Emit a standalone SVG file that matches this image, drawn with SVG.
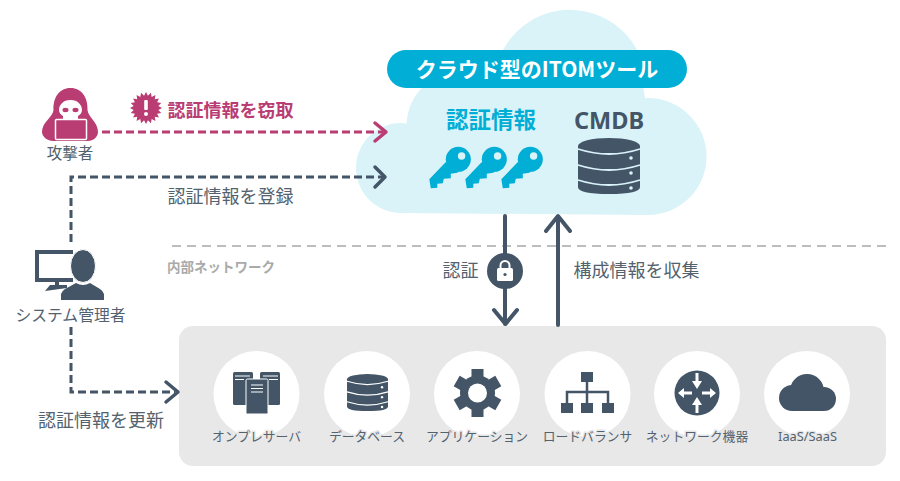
<svg xmlns="http://www.w3.org/2000/svg" xmlns:xlink="http://www.w3.org/1999/xlink" width="900" height="481" viewBox="0 0 900 481">
<style>
text{font-family:"Noto Sans CJK JP","Noto Sans",sans-serif;fill:#52626f;text-anchor:middle}
.lbl{font-size:18px}
.small{font-size:12.800px;stroke:#e8e8e8;stroke-width:3px;paint-order:stroke;stroke-linejoin:round}
.dk{fill:#435566}
.c{fill:#fff}
.conn{fill:none;stroke:#435566;stroke-width:3}
.dash{stroke-dasharray:8 4}
.pink{stroke:#b93c72}
.solid{stroke-width:4;stroke-linecap:round;stroke-linejoin:round}
.head{stroke-linecap:round;stroke-linejoin:round;stroke-width:3.500}
</style>
<defs>
<symbol id="db" viewBox="0 0 62 56" overflow="visible">
<path fill="#435566" d="M0 8A31 8 0 0 1 62 8V49Q62 56 31 56Q0 56 0 49Z"/>
<path fill="none" stroke="currentColor" stroke-width="1.800" d="M0 11Q31 21 62 11M0 27Q31 37 62 27M0 42Q31 52 62 42"/>
<circle cx="53" cy="20" r="1.800" fill="currentColor"/><circle cx="53" cy="35" r="1.800" fill="currentColor"/><circle cx="53" cy="50" r="1.800" fill="currentColor"/>
</symbol>
<g id="key">
<path fill="#00aed6" d="M-12.700 3L-29 20L-27.500 29L-21 28.500L-21 24.500L-15.500 24L-14.500 19.500L-7.500 19L-7.500 14.500L-1 13.500L5 9Z"/>
<circle r="12.500" fill="#00aed6"/>
<circle cx="3.300" cy="-3.300" r="3.700" fill="#d9f3f9"/>
</g>
</defs>

<g id="cloud">
<path fill="#d9f3f9" d="M401 213A45 45 0 0 1 401 123Q404 123 406.500 123.500Q408 100 425 85H494A76 76 0 0 1 637 50L645 98L648 98A58.500 58.500 0 0 1 648 215Z"/>
<rect x="387" y="50" width="300" height="38" rx="19" fill="#00aed6"/>
<text x="537" y="77" font-size="21" font-weight="700" style="fill:#fff">クラウド型のITOMツール</text>
</g>

<g id="credentials">
<text x="491" y="128" font-size="22.500" font-weight="700" style="fill:#00aed6">認証情報</text>
<use xlink:href="#key" href="#key" x="458.300" y="159.300"/>
<use xlink:href="#key" href="#key" x="494.300" y="159.300"/>
<use xlink:href="#key" href="#key" x="530.300" y="159.300"/>
</g>

<g id="cmdb">
<text x="609" y="129" font-size="23.500" font-weight="700" style="fill:#435566;font-family:'Noto Sans',sans-serif">CMDB</text>
<use href="#db" xlink:href="#db" x="578" y="138" width="62" height="56" color="#d9f3f9"/>
</g>

<line x1="172" y1="246" x2="887" y2="246" stroke="#bdbdbd" stroke-width="2" stroke-dasharray="9 6"/>
<text x="221" y="272" font-size="13.500" font-weight="700" style="fill:#aaaaaa">内部ネットワーク</text>

<g id="panel"><rect x="179" y="326" width="707" height="140" rx="14" fill="#e8e8e8"/></g>

<g id="connectors">
<path class="conn dash pink" d="M102 132H383"/>
<path class="conn pink head" d="M375 123L386 132L375 141"/>
<path class="conn dash" d="M71 242V177H383"/>
<path class="conn head" d="M375 167L385 177L375 187"/>
<path class="conn dash" d="M71 327V392H175"/>
<path class="conn head" d="M166 382L178 392L166 402"/>
<path class="conn solid" d="M505 216V324M494 310L505.500 324L517 310"/>
<path class="conn solid" d="M558 325V217M546 231L558 216L570 231"/>
</g>

<g id="attacker">
<path fill="#b93c72" d="M70.500 88C82 88 88 98 87.500 110C88 117 98 122 98 132C98 137 93 141 88 141H53C48 141 42 137 42 132C42 122 53 117 53.500 110C53 98 59 88 70.500 88Z"/>
<path fill="#fff" d="M70.500 100C78 100 82 105 82 110C82 113 80 115 78 116V120H63V116C61 115 59 113 59 110C59 105 63 100 70.500 100Z"/>
<ellipse cx="65.500" cy="110" rx="3" ry="2.200" fill="#b93c72"/><ellipse cx="75.500" cy="110" rx="3" ry="2.200" fill="#b93c72"/>
<rect x="55.500" y="119.500" width="31" height="20" rx="1" fill="#b93c72" stroke="#fff" stroke-width="1.500"/>
<text x="70" y="159" font-size="15.500">攻撃者</text>
</g>

<g id="alert">
<polygon fill="#b93c72" transform="translate(146 108)" points="16,0 12.350,1.950 15.200,4.900 11.100,5.700 12.900,9.400 8.800,8.800 9.400,12.900 5.700,11.100 4.900,15.200 1.950,12.350 0,16 -1.950,12.350 -4.900,15.200 -5.700,11.100 -9.400,12.900 -8.800,8.800 -12.900,9.400 -11.100,5.700 -15.200,4.900 -12.350,1.950 -16,0 -12.350,-1.950 -15.200,-4.900 -11.100,-5.700 -12.900,-9.400 -8.800,-8.800 -9.400,-12.900 -5.700,-11.100 -4.900,-15.200 -1.950,-12.350 0,-16 1.950,-12.350 4.900,-15.200 5.700,-11.100 9.400,-12.900 8.800,-8.800 12.900,-9.400 11.100,-5.700 15.200,-4.900 12.350,-1.950"/>
<rect x="144.200" y="100" width="3.600" height="10" rx="1" fill="#fff"/><circle cx="146" cy="114" r="2" fill="#fff"/>
<text x="230.500" y="116.500" class="lbl" font-weight="700" style="fill:#b93c72">認証情報を窃取</text>
</g>

<text x="230.500" y="202.500" class="lbl">認証情報を登録</text>

<g id="admin">
<path class="dk" d="M35 250H73V254H39V278H73V282H59V285H67V288L45 291L50 285H55V282H35Z"/>
<ellipse cx="83" cy="266" rx="12.500" ry="16.500" class="dk" stroke="#fff" stroke-width="1"/>
<path class="dk" d="M61 294Q62 291 65 289L76 283Q83 287 90 283L100 289Q103 291 104 294V300H61Z"/>
<text x="70.500" y="321" font-size="15.800">システム管理者</text>
</g>

<text x="101" y="427" class="lbl">認証情報を更新</text>

<g id="lock">
<circle cx="505" cy="271" r="18" class="dk"/>
<path fill="none" stroke="#fff" stroke-width="2" d="M500.500 269V265.500A4.500 4.500 0 0 1 509.500 265.500V269"/>
<rect x="497" y="268" width="16" height="13" rx="1.500" fill="#fff"/>
<circle cx="505" cy="274.500" r="1.600" class="dk"/>
</g>
<text x="460.500" y="277" class="lbl">認証</text>
<text x="636.500" y="277" class="lbl">構成情報を収集</text>

<g id="onprem">
<circle cx="256.500" cy="394" r="43" class="c"/>
<rect x="233" y="372" width="20" height="33" rx="1.500" class="dk"/>
<rect x="260" y="372" width="20" height="33" rx="1.500" class="dk"/>
<rect x="246" y="379" width="22" height="35" rx="1.500" class="dk" stroke="#fff" stroke-width="1"/>
<path stroke="#fff" stroke-width="1.200" d="M235 376H250M235 379.500H244M263 376H278M269 379.500H278M251 385H263M251 388.500H263M251 392H263"/>
<text x="256.500" y="441" class="small">オンプレサーバ</text>
</g>

<g id="database">
<circle cx="367" cy="394" r="43" class="c"/>
<use href="#db" xlink:href="#db" x="347" y="374" width="41" height="37" color="#fff"/>
<text x="367" y="441" class="small">データベース</text>
</g>

<g id="application">
<circle cx="477" cy="394" r="43" class="c"/>
<circle cx="477.500" cy="393" r="17.500" class="dk"/>
<path stroke="#435566" stroke-width="12" stroke-linejoin="round" d="M477.500 369V417M456.700 381L498.300 405M456.700 405L498.300 381"/>
<circle cx="477.500" cy="393" r="9.500" fill="#fff"/>
<text x="477" y="441" class="small">アプリケーション</text>
</g>

<g id="loadbalancer">
<circle cx="587.500" cy="394" r="43" class="c"/>
<rect x="581" y="372" width="12" height="10" class="dk"/>
<rect x="561" y="403" width="12" height="10" class="dk"/>
<rect x="581" y="403" width="12" height="10" class="dk"/>
<rect x="602" y="403" width="12" height="10" class="dk"/>
<path fill="none" stroke="#435566" stroke-width="2.500" d="M587 382V403M567 403V392H608V403"/>
<text x="587.500" y="441" class="small">ロードバランサ</text>
</g>

<g id="network">
<circle cx="697" cy="394" r="43" class="c"/>
<circle cx="697" cy="393" r="22.500" class="dk"/>
<path fill="#fff" d="M695.500 373H698.500V381H702L697 389L692 381H695.500ZM695.500 413H698.500V405H702L697 397L692 405H695.500ZM692 391.500V394.500H684V398L678 393L684 388V391.500ZM702 391.500V394.500H710V398L716 393L710 388V391.500Z"/>
<text x="697" y="441" class="small">ネットワーク機器</text>
</g>

<g id="iaas">
<circle cx="807" cy="394" r="43" class="c"/>
<circle cx="792" cy="398" r="13" class="dk"/>
<circle cx="807" cy="391" r="17" class="dk"/>
<circle cx="824" cy="399" r="12" class="dk"/>
<rect x="792" y="398" width="32" height="13" class="dk"/>
<text x="807.500" y="441" class="small" style="font-family:'Noto Sans',sans-serif">IaaS/SaaS</text>
</g>
</svg>
